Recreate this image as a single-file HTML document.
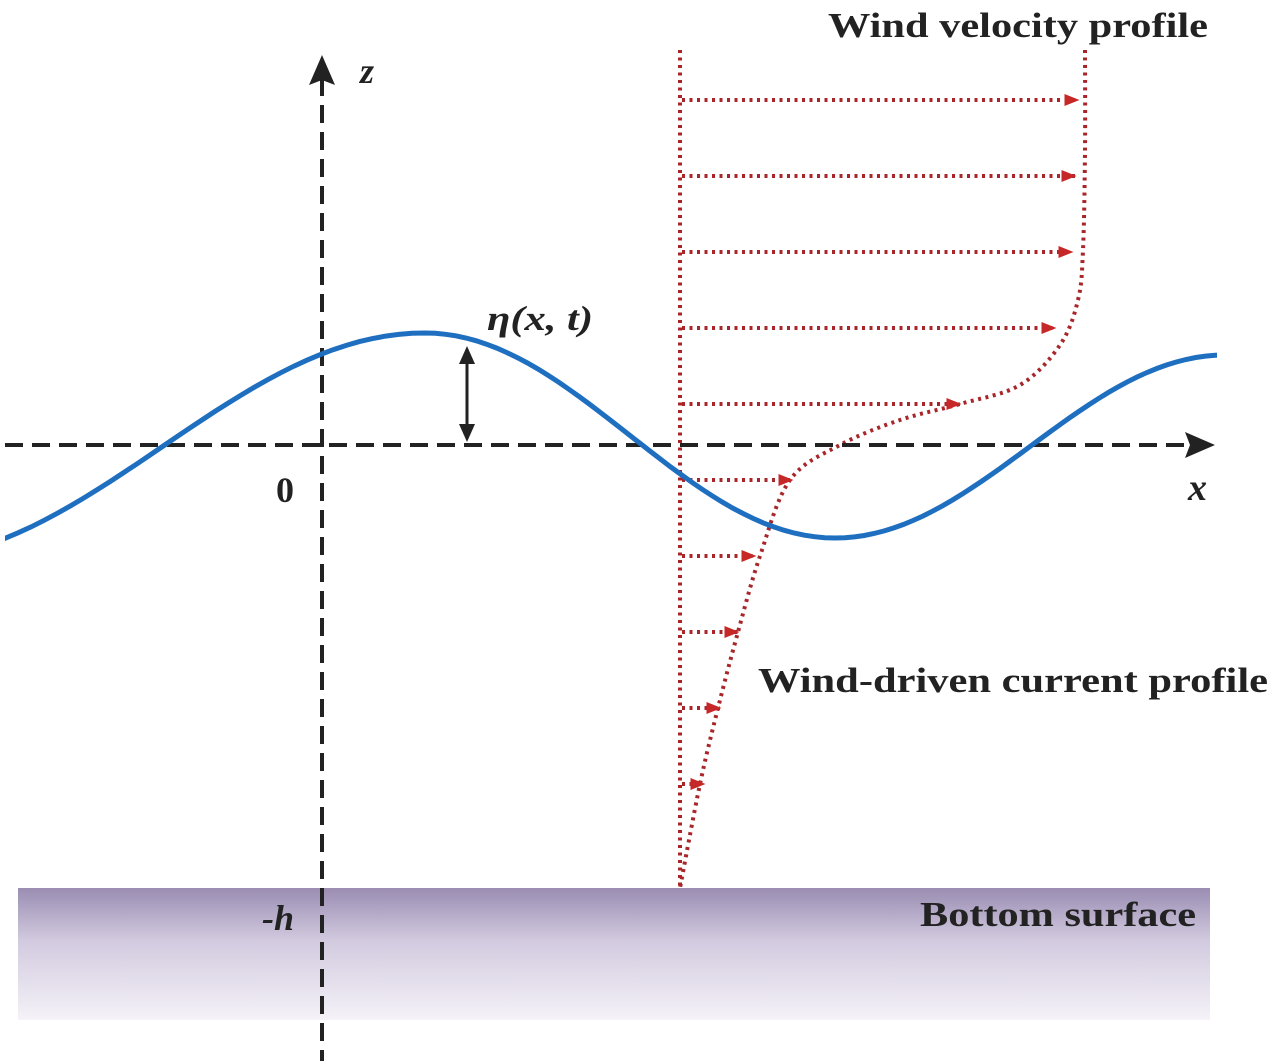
<!DOCTYPE html>
<html><head><meta charset="utf-8"><style>
html,body{margin:0;padding:0;background:#fff;}
svg{display:block;font-family:"Liberation Serif",serif;font-weight:bold;}
</style></head><body>
<svg id="chart" width="1280" height="1061" viewBox="0 0 1280 1061" xmlns="http://www.w3.org/2000/svg">
<defs>
<linearGradient id="bg" x1="0" y1="0" x2="0" y2="1">
<stop offset="0" stop-color="#9a8db2"/><stop offset="0.4" stop-color="#d2cadf"/><stop offset="1" stop-color="#f5f2f8"/>
</linearGradient>
<marker id="redhead" viewBox="0 0 10 10" refX="9" refY="5" markerWidth="26" markerHeight="15" markerUnits="userSpaceOnUse" orient="auto"><path d="M0,1 L10,5 L0,9 Z" fill="#c62828"/></marker>
<clipPath id="clipw"><rect x="5" y="0" width="1212" height="1061"/></clipPath>
</defs>
<rect x="18" y="888" width="1192" height="132" fill="url(#bg)"/>
<g id="dyn"></g>
<text x="828" y="37" font-size="35" textLength="380" lengthAdjust="spacingAndGlyphs" fill="#222">Wind velocity profile</text>
<text x="360" y="83" font-size="36" font-style="italic" fill="#222">z</text>
<text x="487" y="330" font-size="35" font-style="italic" textLength="106" lengthAdjust="spacingAndGlyphs" fill="#222">η(x, t)</text>
<text x="276" y="502" font-size="36" fill="#222">0</text>
<text x="1188" y="500" font-size="38" font-style="italic" fill="#222">x</text>
<text x="758" y="692" font-size="35" textLength="510" lengthAdjust="spacingAndGlyphs" fill="#222">Wind-driven current profile</text>
<text x="920" y="926" font-size="35" textLength="276" lengthAdjust="spacingAndGlyphs" fill="#222">Bottom surface</text>
<text x="262" y="930" font-size="36" font-style="italic" fill="#222">-h</text>
</svg>
<script>
// wave extremes (x px, y px): trough, crest, trough, crest
const waveExtX = [-100,425,835,1225];
const waveExtY = [560,333,538,355];
// wind arrows (above surface): heights and tip positions
const windY = [100,176,252,328,404];
const windTip = [1078,1075,1072,1055,960];
// current arrows (below surface)
const curY = [480,556,632,708,784];
const curTip = [792,755,738,720,704];
// profile curve
const profX = [1085,1085,1083,1078,1060,1020,960,900,840,790,760,738,718,700,680];
const profY = [50,150,250,300,345,385,404,420,445,480,556,632,708,784,888];
const NS='http://www.w3.org/2000/svg';
const g=document.getElementById('dyn');
function mk(t,a){const e=document.createElementNS(NS,t);for(const k in a)e.setAttribute(k,a[k]);g.appendChild(e);return e;}
function smooth(xs,ys,k){k=k||6;let d='M'+xs[0]+','+ys[0];for(let i=0;i<xs.length-1;i++){const x0=xs[i-1]??xs[i],y0=ys[i-1]??ys[i],x3=xs[i+2]??xs[i+1],y3=ys[i+2]??ys[i+1];const c1x=xs[i]+(xs[i+1]-x0)/k,c1y=ys[i]+(ys[i+1]-y0)/k,c2x=xs[i+1]-(x3-xs[i])/k,c2y=ys[i+1]-(y3-ys[i])/k;d+=` C${c1x},${c1y} ${c2x},${c2y} ${xs[i+1]},${ys[i+1]}`;}return d;}
function wavePath(){let d='';for(let i=0;i<waveExtX.length-1;i++){const xa=waveExtX[i],xb=waveExtX[i+1],ya=waveExtY[i],yb=waveExtY[i+1];for(let s=0;s<=40;s++){const t=s/40;const x=xa+(xb-xa)*t;const y=ya+(yb-ya)*(1-Math.cos(Math.PI*t))/2;d+=(d?' L':'M')+x.toFixed(1)+','+y.toFixed(1);}}return d;}
const dot={stroke:'#a8262a','stroke-width':4,'stroke-dasharray':'3 4.5',fill:'none'};
let e;
e=mk('line',Object.assign({x1:680,y1:50,x2:680,y2:888},dot));


e=mk('path',Object.assign({d:smooth(profX,profY)},dot));


windY.forEach((y,i)=>{
 e=mk('line',Object.assign({x1:682,y1:y,x2:windTip[i],y2:y,'marker-end':'url(#redhead)'},dot));
 
 
});
curY.forEach((y,i)=>{
 e=mk('line',Object.assign({x1:682,y1:y,x2:curTip[i],y2:y,'marker-end':'url(#redhead)'},dot));
 
 
});
e=mk('line',{x1:5,y1:445,x2:1195,y2:445,stroke:'#222','stroke-width':4,'stroke-dasharray':'18 9'});


e=mk('path',{d:'M1215,445 L1185,432 L1190,445 L1185,458 Z',fill:'#222'});


e=mk('line',{x1:322,y1:78,x2:322,y2:1061,stroke:'#222','stroke-width':4,'stroke-dasharray':'18 9'});


e=mk('path',{d:'M322,55 L309,85 L322,80 L335,85 Z',fill:'#222'});


e=mk('path',{d:wavePath(),stroke:'#1f6fc0','stroke-width':5,fill:'none','clip-path':'url(#clipw)'});


e=mk('line',{x1:467,y1:360,x2:467,y2:428,stroke:'#222','stroke-width':3});


mk('path',{d:'M467,346 L459,364 L475,364 Z',fill:'#222'});
mk('path',{d:'M467,442 L459,424 L475,424 Z',fill:'#222'});
</script>
</body></html>
